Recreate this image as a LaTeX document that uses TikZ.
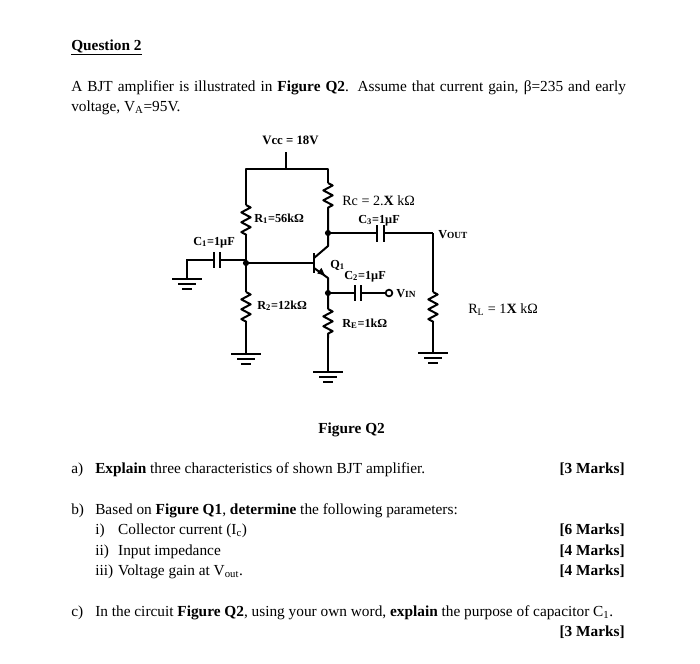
\documentclass[tikz,border=0pt]{standalone}
\usepackage{fontspec}
\setmainfont{Liberation Serif}
\usetikzlibrary{decorations.pathmorphing,arrows.meta}
\newcommand{\sbs}[1]{\textsubscript{#1}}
\newcommand{\itm}[2]{\makebox[#1][l]{#2}}
\tikzset{
  x=0.75pt,y=-0.75pt,
  wire/.style={line width=1.5pt,line join=round},
  thinwire/.style={line width=1.3pt},
  resistor/.style={wire,decorate,decoration={zigzag,segment length=7.4pt,amplitude=3.5pt}},
  txt/.style={anchor=base west,inner sep=0pt,font=\fontsize{11.5pt}{13pt}\selectfont},
  txtr/.style={anchor=base east,inner sep=0pt,font=\fontsize{11.5pt}{13pt}\selectfont\bfseries},
  lab/.style={anchor=base west,inner sep=0pt,font=\fontsize{9.2pt}{10pt}\selectfont\bfseries},
  labn/.style={anchor=base west,inner sep=0pt,font=\fontsize{10.6pt}{11pt}\selectfont},
  dot/.style={circle,fill=black,inner sep=0pt,minimum size=4.6pt},
  term/.style={circle,draw,line width=1.3pt,fill=white,inner sep=0pt,minimum size=5pt},
  gnd/.pic={
    \draw[line width=1.5pt] (-15,0) -- (15,0);
    \draw[line width=1.5pt] (-9,5) -- (9,5);
    \draw[line width=1.5pt] (-5,10) -- (5,10);
  },
}
\begin{document}
\begin{tikzpicture}
\useasboundingbox (0,0) rectangle (700,664);
\fill[white] (0,0) rectangle (700,664);
% junctions and corners
\coordinate (vcctop) at (286,152);
\coordinate (vccjoin) at (286,169);
\coordinate (tl) at (246,169);
\coordinate (tr) at (328,169);
\coordinate (r1a) at (246,205);
\coordinate (r1b) at (246,235);
\coordinate (r2a) at (246,292);
\coordinate (r2b) at (246,322);
\coordinate (g2) at (246,354);
\coordinate (rca) at (328,183);
\coordinate (rcb) at (328,212);
\coordinate (cc) at (328,246);
\coordinate (bc) at (314,258);
\coordinate (be) at (314,268);
\coordinate (ee) at (328,278);
\coordinate (rea) at (328,309);
\coordinate (reb) at (328,338);
\coordinate (g3) at (328,372);
\coordinate (base) at (314,263);
\coordinate (c1l) at (214,260);
\coordinate (c1r) at (220,260);
\coordinate (g1top) at (187,260);
\coordinate (g1) at (187,279);
\coordinate (j1) at (246,260);
\coordinate (c2l) at (355,293);
\coordinate (c2r) at (361,293);
\coordinate (c3l) at (377,233);
\coordinate (c3r) at (384,233);
\coordinate (outc) at (433,233);
\coordinate (rla) at (433,292);
\coordinate (rlb) at (433,322);
\coordinate (g4) at (433,353);
% wires
\draw[thinwire] (vcctop) -- (vccjoin);
\draw[wire] (r1a) -- (tl) -- (tr) -- (rca);
\draw[resistor] (r1a) -- (r1b);
\draw[wire] (r1b) -- (246,263) -- (r2a);
\draw[resistor] (r2a) -- (r2b);
\draw[wire] (r2b) -- (g2);
\draw[resistor] (rca) -- (rcb);
\draw[wire] (rcb) -- (cc) -- (bc);
\draw[wire] (be) -- (ee) -- (rea);
\fill (325,275.5) -- (317.2,273.4) -- (321.4,267.8) -- cycle;
\draw[resistor] (rea) -- (reb);
\draw[wire] (reb) -- (g3);
\draw[thinwire] (246,263) -- (base);
\draw[line width=2pt] (314,253) -- (314,273);
\draw[thinwire] (g1) -- (g1top) -- (c1l);
\draw[thinwire] (c1r) -- (j1);
\draw[line width=1.5pt] (214,252) -- (214,268) (220,252) -- (220,268);
\draw[thinwire] (328,293) -- (c2l);
\draw[thinwire] (c2r) -- (389,293);
\draw[line width=1.5pt] (355,285) -- (355,301) (361,285) -- (361,301);
\draw[thinwire] (328,233) -- (c3l);
\draw[thinwire] (c3r) -- (outc);
\draw[line width=1.5pt] (377,225) -- (377,242) (384,225) -- (384,242);
\draw[wire] (outc) -- (rla);
\draw[resistor] (rla) -- (rlb);
\draw[wire] (rlb) -- (g4);
\node[dot] (jb) at (246,263) {};
\node[dot] (jc) at (328,233) {};
\node[dot] (je) at (328,293) {};
\node[term] (vin) at (389,293) {};
\pic at (g1) {gnd};
\pic at (g2) {gnd};
\pic at (g3) {gnd};
\pic at (g4) {gnd};
% circuit labels
\node[lab,font=\fontsize{9.6pt}{10pt}\selectfont\bfseries] (lvcc) at (262,144) {Vcc = 18V};
\node[lab] (lr1) at (254,222) {R\sbs{1}=56kΩ};
\node[lab] (lc1) at (193,245) {C\sbs{1}=1µF};
\node[labn] (lrc) at (342,205) {Rc = 2.\textbf{X} kΩ};
\node[lab] (lc3) at (358,223) {C\sbs{3}=1µF};
\node[lab] (lvout) at (438,238) {V\fontsize{7pt}{8pt}\selectfont OUT};
\node[lab] (lq) at (330,268) {Q\sbs{1}};
\node[lab] (lc2) at (344,279) {C\sbs{2}=1µF};
\node[lab] (lvin) at (396,297) {V\fontsize{7pt}{8pt}\selectfont IN};
\node[lab] (lr2) at (257,309) {R\sbs{2}=12kΩ};
\node[lab] (lre) at (342,327) {R\sbs{E}=1kΩ};
\node[labn] (lrl) at (468,313) {R\sbs{L} = 1\textbf{X} kΩ};
% document text
\node[txt,font=\fontsize{11.5pt}{13pt}\selectfont\bfseries] (qt) at (71,50) {\underline{Question 2}};
\node[txt,text width=416pt,align=justify,anchor=north west,font=\fontsize{11.5pt}{15pt}\selectfont] (intro) at (71,80) {A BJT amplifier is illustrated in \textbf{Figure Q2}. Assume that current gain, β=235 and early voltage, V\sbs{A}=95V.};
\node[txt,font=\fontsize{11.5pt}{13pt}\selectfont\bfseries] (fig) at (318,433) {Figure Q2};
\node[txt] (a) at (71,473) {\itm{18pt}{a)}\textbf{Explain} three characteristics of shown BJT amplifier.};
\node[txtr] (am) at (625,473) {[3 Marks]};
\node[txt] (b) at (71,514) {\itm{18pt}{b)}Based on \textbf{Figure Q1}, \textbf{determine} the following parameters:};
\node[txt] (bi) at (95,534) {\itm{17.2pt}{i)}Collector current (I\sbs{c})};
\node[txt] (bii) at (95,555) {\itm{17.2pt}{ii)}Input impedance};
\node[txt] (biii) at (95,575) {\itm{17.2pt}{iii)}Voltage gain at V\sbs{out}.};
\node[txtr] (bim) at (625,534) {[6 Marks]};
\node[txtr] (biim) at (625,555) {[4 Marks]};
\node[txtr] (biiim) at (625,575) {[4 Marks]};
\node[txt] (c) at (71,616) {\itm{18pt}{c)}In the circuit \textbf{Figure Q2}, using your own word, \textbf{explain} the purpose of capacitor C\sbs{1}.};
\node[txtr] (cm) at (625,636) {[3 Marks]};
\end{tikzpicture}
\end{document}
